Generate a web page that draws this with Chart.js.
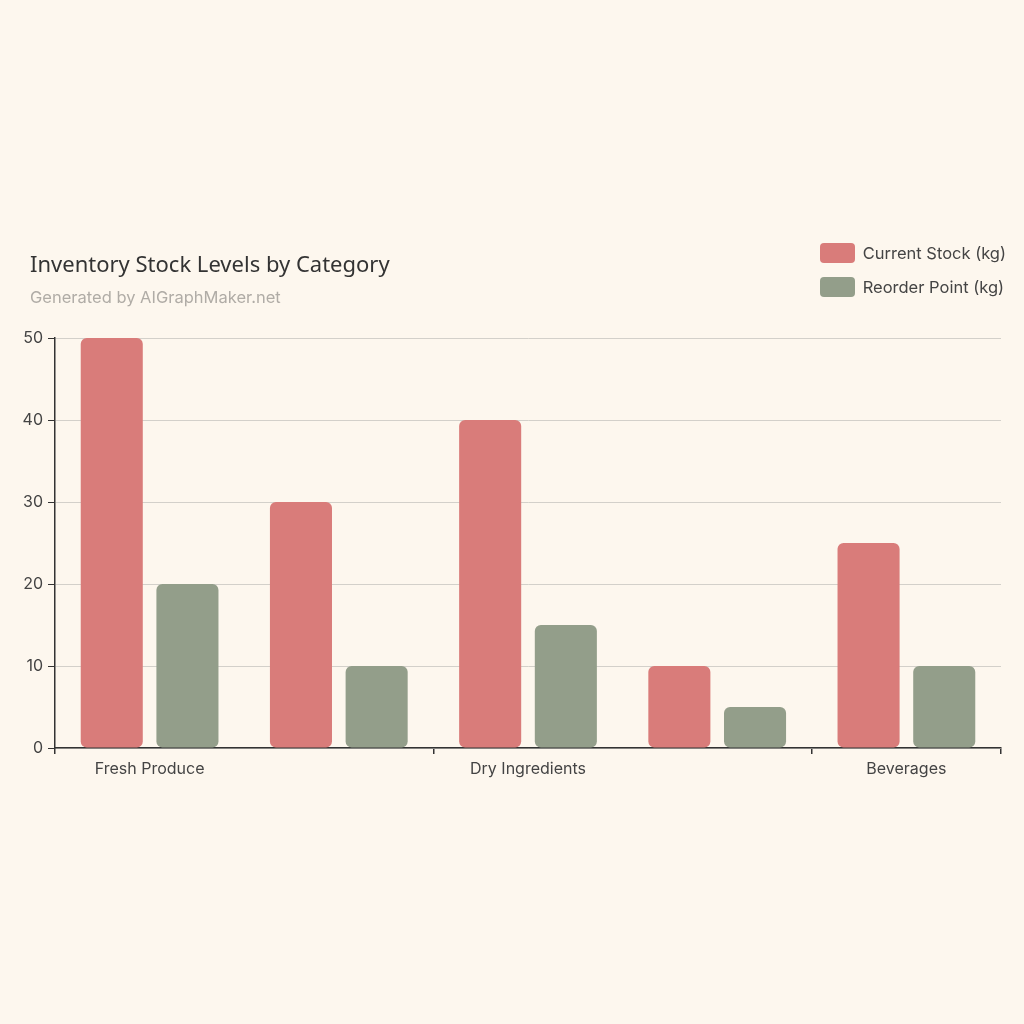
<!DOCTYPE html>
<html>
<head>
<meta charset="utf-8">
<script src="https://cdn.jsdelivr.net/npm/chart.js@4"></script>
<style>
    html, body { margin: 0; padding: 0; background: #fdf7ee; }
    .wrap { position: relative; width: 1024px; height: 1024px; }
    canvas { position: absolute; left: 0; top: 0; }
    .title { position: absolute; left: 30px; top: 248px; font: 22px "Noto Sans", sans-serif; color: #333; }
    .subtitle { position: absolute; left: 30px; top: 287px; font: 16.5px Inter, sans-serif; color: #b0aca6; }
    .legend { position: absolute; right: 18px; top: 236px; font: 16.5px Inter, sans-serif; color: #444; }
    .legend-item { display: flex; align-items: center; height: 34px; }
    .swatch { width: 35px; height: 20px; border-radius: 4px; margin-right: 8px; }
</style>
</head>
<body>
<div class="wrap">
    <canvas id="stockChart" width="1024" height="1024"></canvas>
    <div class="title">Inventory Stock Levels by Category</div>
    <div class="subtitle">Generated by AIGraphMaker.net</div>
    <div class="legend" id="legend"></div>
</div>
<script>
// Data
const CATEGORIES = ['Fresh Produce', 'Meat & Seafood', 'Dry Ingredients', 'Dairy', 'Beverages'];
const CURRENT_STOCK = [50, 30, 40, 10, 25];
const REORDER_POINT = [20, 10, 15, 5, 10];
const Y_TICKS = [0, 10, 20, 30, 40, 50];

const RED = '#d97c7a';
const GREEN = '#939e8a';

const datasets = [
    { label: 'Current Stock (kg)', data: CURRENT_STOCK, backgroundColor: RED },
    { label: 'Reorder Point (kg)', data: REORDER_POINT, backgroundColor: GREEN }
].map(ds => Object.assign(ds, {
    borderRadius: 6,
    borderSkipped: false,
    categoryPercentage: 0.8,
    barPercentage: 0.82
}));

// Legend in HTML, built from the datasets
const legend = document.getElementById('legend');
datasets.forEach(ds => {
    const item = document.createElement('div');
    item.className = 'legend-item';
    const sw = document.createElement('span');
    sw.className = 'swatch';
    sw.style.background = ds.backgroundColor;
    const txt = document.createElement('span');
    txt.textContent = ds.label;
    item.appendChild(sw);
    item.appendChild(txt);
    legend.appendChild(item);
});

const tickFont = { family: 'Inter, sans-serif', size: 16 };

// only every other category is labelled (like the original's auto-skip);
// the closing grid tick at the right edge has no tick index
const shownTick = i => i === undefined || i % 2 === 0 || i >= CATEGORIES.length;

new Chart(document.getElementById('stockChart'), {
    type: 'bar',
    data: { labels: CATEGORIES, datasets: datasets },
    options: {
        responsive: false,
        animation: false,
        layout: { padding: { top: 338, right: 23, bottom: 236, left: 0 } },
        plugins: {
            legend: { display: false },
            title: { display: false },
            tooltip: { enabled: false }
        },
        scales: {
            x: {
                border: { color: '#333', width: 1.5 },
                grid: {
                    drawOnChartArea: false,
                    drawTicks: true,
                    tickLength: 6,
                    lineWidth: 1.5,
                    offset: true,
                    tickColor: ctx => shownTick(ctx.index) ? '#333' : 'rgba(0,0,0,0)'
                },
                ticks: {
                    color: '#444',
                    font: tickFont,
                    maxRotation: 0,
                    autoSkip: false,
                    padding: 6,
                    callback: (value, i) => i % 2 === 0 ? CATEGORIES[i] : ''
                },
                afterFit: scale => { scale.height = 40; }
            },
            y: {
                min: 0,
                max: 50,
                border: { color: '#333', width: 1.5 },
                grid: { color: '#d3d0ca', lineWidth: 1, tickLength: 7, tickColor: '#333' },
                afterBuildTicks: scale => { scale.ticks = Y_TICKS.map(v => ({ value: v })); },
                ticks: { color: '#444', font: tickFont, padding: 5 },
                afterFit: scale => { scale.width = 55; }
            }
        }
    }
});
</script>
</body>
</html>
